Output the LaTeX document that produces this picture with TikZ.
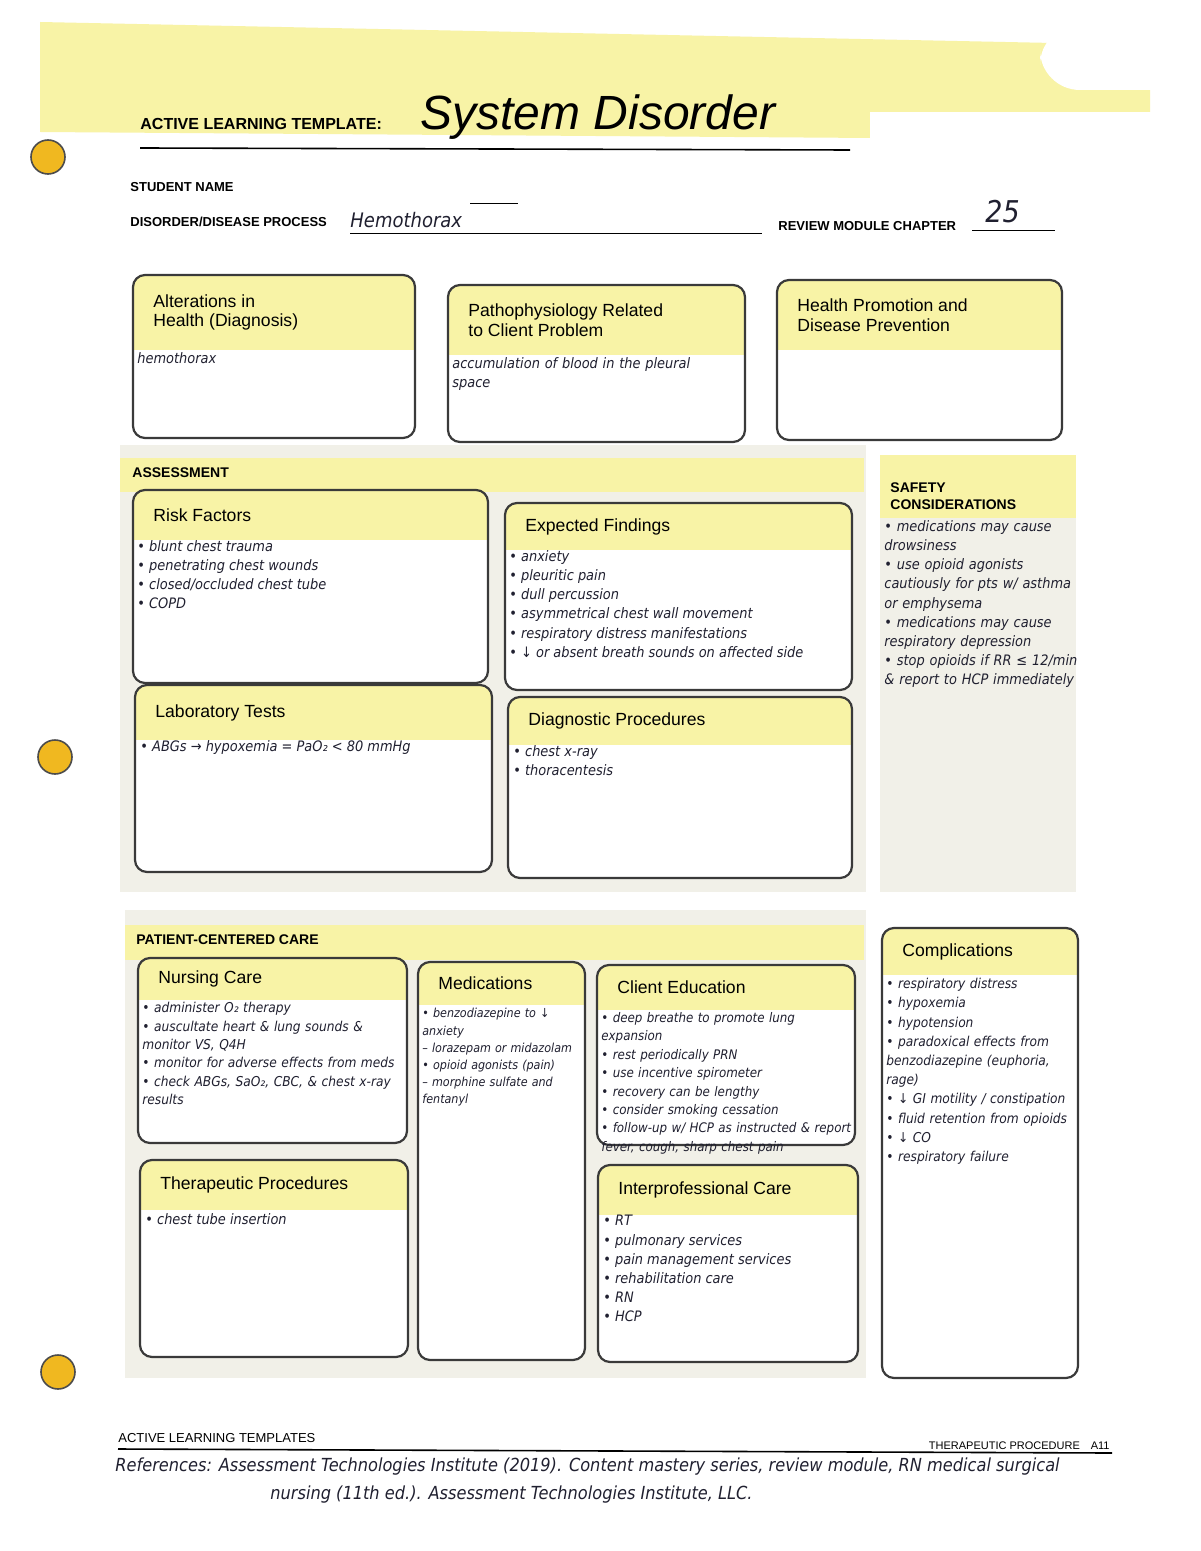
\documentclass[tikz,border=0pt]{standalone}
\usepackage{fontspec}
\setmainfont{Liberation Sans}
\newfontfamily\hand{DejaVu Sans Condensed}[UprightFont=* Oblique]
\newfontfamily\titlef{Liberation Sans}
\newcommand\nohy{\hyphenpenalty=10000\relax\exhyphenpenalty=10000\relax}
\definecolor{hdr}{HTML}{F8F3A6}
\definecolor{panel}{HTML}{F1F0E8}
\definecolor{edge}{HTML}{3A3A3A}
\definecolor{holes}{HTML}{F0B820}
\definecolor{ink}{HTML}{202030}
\tikzset{
  boxline/.style={draw=edge,line width=1.1pt,rounded corners=6pt},
  btitle/.style={anchor=west,font=\fontsize{8.8}{9.8}\selectfont,align=left,inner sep=0},
  htext/.style={anchor=north west,font=\hand\fontsize{7.2}{9.6}\selectfont\nohy,text=ink,align=left,inner sep=0},
  smallcap/.style={font=\bfseries\fontsize{7}{8.5}\selectfont,anchor=west,inner sep=0,align=left},
  hole/.style={circle,fill=holes,draw=black!70,line width=0.8pt,minimum size=17pt,inner sep=0}
}
% #1 name #2 x1 #3 y1 #4 x2 #5 y2 #6 header y #7 title
\newcommand\fbx[7]{%
  \begin{scope}
    \clip[rounded corners=6pt] (#2,#3) rectangle (#4,#5);
    \fill[white] (#2,#3) rectangle (#4,#5);
    \fill[hdr] (#2,#3) rectangle (#4,#6);
  \end{scope}
  \draw[boxline] (#2,#3) rectangle (#4,#5);
  \node[btitle] (#1) at ($(#2,#3)!0.5!(#2,#6)+(20,0)$) {#7};
}
\usetikzlibrary{calc}
\begin{document}
\begin{tikzpicture}[x=0.5pt,y=-0.5pt]
\useasboundingbox[fill=white] (0,0) rectangle (1200,1551);
% banner
\fill[hdr] (40,22) -- (1150,45) -- (1150,140) -- (40,132) -- cycle;
\fill[white] (870,112) rectangle (1200,160);
\fill[white,rounded corners=20pt] (1040,25) rectangle (1210,90);
\node[anchor=base west,font=\bfseries\fontsize{8}{9}\selectfont,inner sep=0] (alt) at (140,130) {ACTIVE LEARNING TEMPLATE:};
\node[anchor=base west,font=\titlef\itshape\fontsize{24}{26}\selectfont,inner sep=0] (ttl) at (420,130) {System Disorder};
\draw[line width=0.8pt] (140,148) -- (850,150);
% holes
\node[hole] (h1) at (48,157) {};
\node[hole] (h2) at (55,757) {};
\node[hole] (h3) at (58,1372) {};
% name lines
\node[smallcap,font=\bfseries\fontsize{6.5}{7}\selectfont] (sn) at (130,187) {STUDENT NAME};
\draw (470,203) -- (518,203);
\node[smallcap,font=\bfseries\fontsize{6.5}{7}\selectfont] (dp) at (130,222) {DISORDER/DISEASE PROCESS};
\node[anchor=west,font=\hand\fontsize{10}{11}\selectfont,inner sep=0,text=ink] (hemo) at (350,220) {Hemothorax};
\draw (350,233) -- (762,233);
\node[smallcap,font=\bfseries\fontsize{6.5}{7}\selectfont] (rm) at (778,226) {REVIEW MODULE CHAPTER};
\node[anchor=west,font=\hand\fontsize{15}{16}\selectfont,inner sep=0,text=ink] (ch) at (985,212) {25};
\draw (972,230) -- (1055,230);
% top boxes
\fbx{t1}{133}{275}{415}{438}{350}{Alterations in\\Health (Diagnosis)}
\node[htext] (t1t) at (137,352) {hemothorax};
\fbx{t2}{448}{285}{745}{442}{355}{Pathophysiology Related\\to Client Problem}
\node[htext,text width=140pt] (t2t) at (452,357) {accumulation of blood in the pleural space};
\fbx{t3}{777}{280}{1062}{440}{350}{Health Promotion and\\Disease Prevention}
% assessment panel
\fill[panel] (120,445) rectangle (866,892);
\fill[hdr] (120,458) rectangle (864,492);
\node[smallcap] (as) at (132,473) {ASSESSMENT};
\fbx{a1}{133}{490}{488}{683}{540}{Risk Factors}
\node[htext] (a1t) at (137,540) {• blunt chest trauma\\• penetrating chest wounds\\• closed/occluded chest tube\\• COPD};
\fbx{a2}{505}{503}{852}{690}{550}{Expected Findings}
\node[htext] (a2t) at (509,550) {• anxiety\\• pleuritic pain\\• dull percussion\\• asymmetrical chest wall movement\\• respiratory distress manifestations\\• ↓ or absent breath sounds on affected side};
\fbx{a3}{135}{685}{492}{872}{740}{Laboratory Tests}
\node[htext] (a3t) at (140,740) {• ABGs → hypoxemia = PaO₂ < 80 mmHg};
\fbx{a4}{508}{697}{852}{878}{745}{Diagnostic Procedures}
\node[htext] (a4t) at (513,745) {• chest x-ray\\• thoracentesis};
% safety
\fill[panel] (880,455) rectangle (1076,892);
\fill[hdr] (880,455) rectangle (1076,518);
\node[smallcap] (sf) at (890,496) {SAFETY\\CONSIDERATIONS};
\node[htext,text width=100pt] (sft) at (884,520) {• medications may cause drowsiness\\• use opioid agonists cautiously for pts w/ asthma or emphysema\\• medications may cause respiratory depression\\• stop opioids if RR ≤ 12/min \& report to HCP immediately};
% patient-centered care
\fill[panel] (125,910) rectangle (866,1378);
\fill[hdr] (125,925) rectangle (864,960);
\node[smallcap] (pc) at (136,940) {PATIENT-CENTERED CARE};
\fbx{p1}{138}{958}{407}{1143}{1000}{Nursing Care}
\node[htext,text width=132pt,font=\hand\fontsize{6.8}{9.2}\selectfont\nohy] (p1t) at (142,1002) {• administer O₂ therapy\\• auscultate heart \& lung sounds \& monitor VS, Q4H\\• monitor for adverse effects from meds\\• check ABGs, SaO₂, CBC, \& chest x-ray results};
\fbx{p2}{140}{1160}{408}{1357}{1210}{Therapeutic Procedures}
\node[htext] (p2t) at (145,1213) {• chest tube insertion};
\fbx{p3}{418}{962}{585}{1360}{1005}{Medications}
\node[htext,text width=80pt,font=\hand\fontsize{6.2}{8.6}\selectfont\nohy] (p3t) at (422,1008) {• benzodiazepine to ↓ anxiety\\– lorazepam or midazolam\\• opioid agonists (pain)\\– morphine sulfate and fentanyl};
\fbx{p4}{597}{965}{855}{1145}{1010}{Client Education}
\node[htext,text width=126pt,font=\hand\fontsize{6.6}{9.2}\selectfont\nohy] (p4t) at (601,1012) {• deep breathe to promote lung expansion\\• rest periodically PRN\\• use incentive spirometer\\• recovery can be lengthy\\• consider smoking cessation\\• follow-up w/ HCP as instructed \& report fever, cough, sharp chest pain};
\fbx{p5}{598}{1165}{858}{1362}{1215}{Interprofessional Care}
\node[htext] (p5t) at (603,1215) {• RT\\• pulmonary services\\• pain management services\\• rehabilitation care\\• RN\\• HCP};
% complications
\fbx{c1}{882}{928}{1078}{1378}{975}{Complications}
\node[htext,text width=94pt,font=\hand\fontsize{6.8}{9.6}\selectfont\nohy] (c1t) at (886,978) {• respiratory distress\\• hypoxemia\\• hypotension\\• paradoxical effects from benzodiazepine (euphoria, rage)\\• ↓ GI motility / constipation\\• fluid retention from opioids\\• ↓ CO\\• respiratory failure};
% footer
\node[anchor=west,font=\fontsize{6.5}{7}\selectfont,inner sep=0] (alts) at (118,1438) {ACTIVE LEARNING TEMPLATES};
\node[anchor=east,font=\fontsize{5.5}{6}\selectfont,inner sep=0] (tp) at (1110,1446) {THERAPEUTIC PROCEDURE\quad A11};
\draw[line width=0.8pt] (118,1449) -- (1112,1453);
\node[htext,anchor=west,font=\hand\fontsize{9}{10}\selectfont] (ref1) at (115,1467) {References: Assessment Technologies Institute (2019). Content mastery series, review module, RN medical surgical};
\node[htext,anchor=west,font=\hand\fontsize{9}{10}\selectfont] (ref2) at (270,1495) {nursing (11th ed.). Assessment Technologies Institute, LLC.};
\end{tikzpicture}
\end{document}
